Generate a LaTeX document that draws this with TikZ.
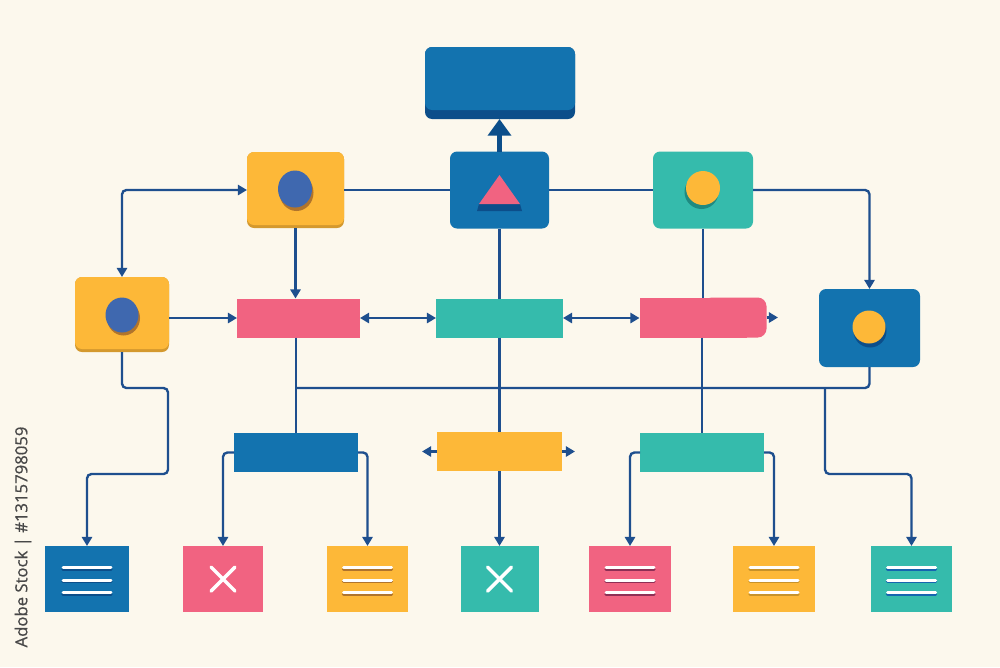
\documentclass[tikz,border=0pt]{standalone}
\usepackage{fontspec}
\newfontfamily\wmfont[FakeBold=0.6]{Open Sans}
\usetikzlibrary{arrows.meta,calc}
\definecolor{bg}{HTML}{FCF8ED}
\definecolor{cblue}{HTML}{1373AF}
\definecolor{cblued}{HTML}{0C4E8A}
\definecolor{cyellow}{HTML}{FDB838}
\definecolor{cyellowd}{HTML}{D4992E}
\definecolor{cteal}{HTML}{35BBAC}
\definecolor{ctealdk}{HTML}{1F8A80}
\definecolor{cpink}{HTML}{F16381}
\definecolor{cline}{HTML}{1E4F8E}
\definecolor{cdot}{HTML}{3F68AF}
\definecolor{cbrown}{HTML}{B0742C}
\definecolor{cmaroon}{HTML}{8E2F55}
\definecolor{cgold}{HTML}{C8922A}
\definecolor{clb}{HTML}{1565B0}
\definecolor{wmgray}{HTML}{484848}
\newcommand\listlines[3]{%
  \foreach \dy in {-11.5,1,13.5}{%
    \draw[#2,line width=1.8pt,line cap=round] ($(#1.center)+(-24,\dy+1.8)$) -- ($(#1.center)+(24,\dy+1.8)$);
    \draw[#3,line width=1.7pt,line cap=round] ($(#1.center)+(-24,\dy)$) -- ($(#1.center)+(24,\dy)$);}}
\newcommand\drawcross[1]{%
  \draw[white,line width=2pt,line cap=round] ($(#1.center)+(-12,-12)$) -- ($(#1.center)+(12,12)$);
  \draw[white,line width=2pt,line cap=round] ($(#1.center)+(-12,12)$) -- ($(#1.center)+(12,-12)$);}
\begin{document}
\begin{tikzpicture}[x=0.2mm,y=-0.2mm,
  blk/.style={inner sep=0pt, outer sep=0pt, draw=none},
  rbox/.style={blk, rounded corners=4pt},
  conn/.style={draw=cline, line width=1.35pt, rounded corners=2.5pt},
  arr/.style={conn, -{Triangle[length=5.2pt,width=5.8pt]}},
  darr/.style={conn, {Triangle[length=5.2pt,width=5.8pt]}-{Triangle[length=5.2pt,width=5.8pt]}},
  bigarr/.style={draw=cblued, line width=2.8pt, -{Triangle[length=9.5pt,width=13pt]}},
  botbox/.style={blk, minimum height=13.2mm}
]
\useasboundingbox (0,0) rectangle (1000,667);
\fill[bg] (0,0) rectangle (1000,667);

% ---------- nodes ----------
\node[rbox, fill=cblued, minimum width=30mm, minimum height=14.4mm] (top) at (500,83) {};
\fill[cblue, rounded corners=4pt] (top.north west) rectangle ($(top.south east)+(0,-9)$);

\node[rbox, fill=cyellowd, minimum width=19.4mm, minimum height=15.2mm] (A) at (295.5,190) {};
\fill[cyellow, rounded corners=4pt] (A.north west) rectangle ($(A.south east)+(0,-3)$);
\node[rbox, fill=cblue, minimum width=19.8mm, minimum height=15.4mm] (B) at (499.5,190) {};
\node[rbox, fill=cteal, minimum width=20mm, minimum height=15.4mm] (C) at (703,190) {};

\node[rbox, fill=cyellowd, minimum width=18.8mm, minimum height=15mm] (D) at (122,314.5) {};
\fill[cyellow, rounded corners=4pt] (D.north west) rectangle ($(D.south east)+(0,-3)$);
\node[rbox, fill=cblue, minimum width=20.2mm, minimum height=15.6mm] (E) at (869.5,328) {};

\node[blk, fill=cpink, minimum width=24.6mm, minimum height=7.8mm] (P1) at (298.5,318) {};
\node[blk, fill=cteal, minimum width=25.4mm, minimum height=7.8mm] (T1) at (499.5,318) {};
\node[blk, minimum width=25.4mm, minimum height=8mm] (P2) at (703,317.5) {};
\fill[cpink] (P2.north west) rectangle ($(P2.south east)+(-20,0)$);
\fill[cpink, rounded corners=5pt] (P2.north) rectangle (P2.south east);

\node[blk, fill=cblue, minimum width=24.8mm, minimum height=7.8mm] (B2) at (296,452.5) {};
\node[blk, fill=cyellow, minimum width=25mm, minimum height=7.8mm] (Y2) at (499.5,451.5) {};
\node[blk, fill=cteal, minimum width=24.8mm, minimum height=7.8mm] (T2) at (702,452.5) {};

\node[botbox, fill=cblue, minimum width=16.6mm] (L1) at (87,579) {};
\node[botbox, fill=cpink, minimum width=16mm] (X1) at (223,579) {};
\node[botbox, fill=cyellow, minimum width=16.2mm] (L2) at (367.5,579) {};
\node[botbox, fill=cteal, minimum width=15.6mm] (X2) at (499.5,579) {};
\node[botbox, fill=cpink, minimum width=16.4mm] (L3) at (630,579) {};
\node[botbox, fill=cyellow, minimum width=16.4mm] (L4) at (774,579) {};
\node[botbox, fill=cteal, minimum width=16.2mm] (L5) at (911.5,579) {};

% ---------- icons ----------
\fill[cbrown] (296.5,192.5) ellipse [x radius=3.4mm, y radius=3.7mm];
\fill[cdot] (295,189) ellipse [x radius=3.4mm, y radius=3.7mm];
\fill[cbrown] (123.5,318) ellipse [x radius=3.3mm, y radius=3.5mm];
\fill[cdot] (122,315) ellipse [x radius=3.3mm, y radius=3.5mm];
\fill[ctealdk] (701.5,192) circle [radius=3.4mm];
\fill[cyellow] (703,188) circle [radius=3.4mm];
\fill[cblued] (870,331) circle [radius=3.3mm];
\fill[cyellow] (869,327) circle [radius=3.3mm];
\fill[cblued] (479,204) -- (520,204) -- (522,211) -- (477,211) -- cycle;
\fill[cpink] (499.5,175) -- (520,204) -- (479,204) -- cycle;

\listlines{L1}{cblued}{white}
\drawcross{X1}
\listlines{L2}{cbrown}{white}
\drawcross{X2}
\listlines{L3}{cmaroon}{white}
\listlines{L4}{cgold}{white}
\listlines{L5}{clb}{white}

% ---------- connectors ----------
\draw[bigarr] (B.north) -- (B.north |- top.south);
\draw[darr] (A.west) -| (D.north);
\draw[conn] (A.east) -- (B.west);
\draw[conn] (B.east) -- (C.west);
\draw[arr] (C.east) -| (E.north);

\draw[arr] (A.south) -- (A.south |- P1.north);
\draw[arr] (D.east |- P1.west) -- (P1.west);
\draw[darr] (P1.east) -- (T1.west);
\draw[darr] (T1.east) -- (T1.east -| P2.west);
\coordinate (p2r) at (778,317.5);
\draw[arr] (P2.east) -- (p2r);

\draw[conn] (B.south) -- (T1.north);
\draw[conn] (T1.south) -- (Y2.north);
\draw[arr] (Y2.south) -- (X2.north);
\draw[conn] (C.south) -- (C.south |- P2.north);
\draw[conn] (P2.south -| T2.north) -- (T2.north);

\coordinate (busL) at (296,388);
\draw[conn] (E.south) |- (busL);
\draw[conn] (B2.north |- P1.south) -- (B2.north);
\coordinate (br) at (825,388);
\coordinate (br2) at (825,474);
\draw[arr] (br) -- (br2) -| (L5.north);

\coordinate (dl1) at (168,388);
\coordinate (dl2) at (87,474);
\draw[arr] (D.south) |- (dl1) |- (dl2) -- (L1.north);

\coordinate (y2l) at (422,451.5);
\coordinate (y2r) at (575,451.5);
\draw[arr] (Y2.west) -- (y2l);
\draw[arr] (Y2.east) -- (y2r);

\draw[arr] (B2.west) -| (X1.north);
\draw[arr] (B2.east) -| (L2.north);
\draw[arr] (T2.west) -| (L3.north);
\draw[arr] (T2.east) -| (L4.north);

% ---------- watermark ----------
\node[rotate=90, text=wmgray, inner sep=0pt, font=\wmfont\fontsize{9.5}{11}\selectfont] (wm) at (23,537) {Adobe Stock | \#1315798059};
\end{tikzpicture}
\end{document}
